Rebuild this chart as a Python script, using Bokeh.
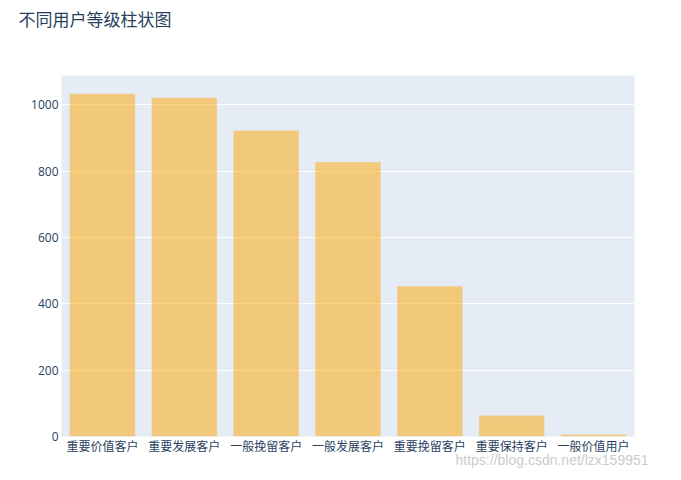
from bokeh.plotting import figure
from bokeh.models import FactorRange, Range1d, ColumnDataSource, Title
from bokeh.embed import file_html
from bokeh.resources import INLINE

categories = ["重要价值客户", "重要发展客户", "一般挽留客户", "一般发展客户", "重要挽留客户", "重要保持客户", "一般价值用户"]
counts = [1033, 1021, 922, 827, 453, 63, 6]
y_ticks = [0, 200, 400, 600, 800, 1000]

FONT = "Open Sans, Noto Sans CJK SC, sans-serif"
TXT = "#2a3f5f"

src = ColumnDataSource(dict(cat=categories, n=counts))

p = figure(width=680, height=480, output_backend="svg", toolbar_location=None,
           x_range=FactorRange(*categories, range_padding=0),
           y_range=Range1d(0, 1088),
           min_border_left=61, min_border_right=46, min_border_top=75, min_border_bottom=0)
p.title = None
# spacer between frame and title
p.add_layout(Title(text=" ", text_font=FONT, text_font_size="17px", standoff=20), "above")
p.add_layout(Title(text="不同用户等级柱状图", text_font=FONT, text_font_size="17px",
                   text_color=TXT, text_font_style="normal", offset=-43,
                   vertical_align="bottom", standoff=0), "above")

p.vbar(x="cat", top="n", width=0.8, source=src, fill_color="orange", fill_alpha=0.5,
       line_color="#E5ECF6", line_width=0.5, line_alpha=0.5)

p.background_fill_color = "#E5ECF6"
p.border_fill_color = "white"
p.outline_line_color = None
p.xgrid.grid_line_color = None
p.ygrid.grid_line_color = "white"
p.ygrid.grid_line_width = 1
p.yaxis.ticker = y_ticks

for ax in (p.xaxis[0], p.yaxis[0]):
    ax.axis_line_color = None
    ax.major_tick_line_color = None
    ax.minor_tick_line_color = None
    ax.major_tick_out = 0
    ax.major_tick_in = 0
    ax.minor_tick_out = 0
    ax.minor_tick_in = 0
    ax.major_label_text_font = FONT
    ax.major_label_text_font_size = "12px"
    ax.major_label_text_color = TXT
    ax.major_label_standoff = 3
p.xaxis[0].major_label_standoff = 1

p.add_layout(Title(text="https://blog.csdn.net/lzx159951", text_font="Liberation Sans",
                   text_font_size="14px", text_color="#cccccc", text_font_style="normal",
                   align="left", offset=394, vertical_align="top", standoff=-12), "below")
# spacer below the watermark
p.add_layout(Title(text=" ", text_font="Liberation Sans", text_font_size="14px",
                   standoff=-1), "below")

open("out.html", "w").write(file_html(p, INLINE))
